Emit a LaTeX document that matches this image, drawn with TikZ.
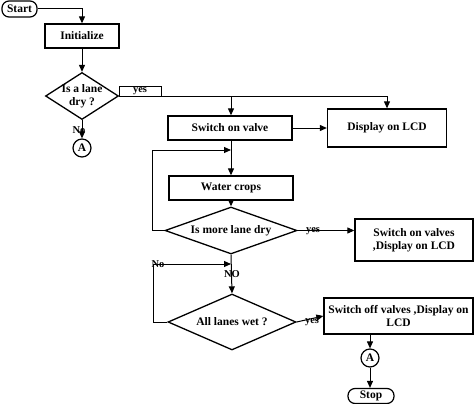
\documentclass[tikz,border=0pt]{standalone}
\usepackage{fontspec}
\setmainfont{Liberation Serif}
\usetikzlibrary{shapes.geometric,arrows.meta}
\begin{document}
\begin{tikzpicture}[x=1pt,y=-1pt,
  font=\bfseries\fontsize{11.5}{13}\selectfont,
  box/.style={draw,line width=1.3pt,rectangle,inner sep=1pt,align=center},
  term/.style={draw,line width=1.2pt,rounded corners=7pt,inner sep=1pt},
  dia/.style={draw,line width=1.3pt,diamond,inner sep=0pt},
  conn/.style={draw,line width=1.2pt,circle,inner sep=0pt,minimum size=18pt},
  lab/.style={inner sep=0.5pt,font=\bfseries\fontsize{10.5}{11}\selectfont},
  arr/.style={line width=1pt,-{Triangle[length=7pt,width=6pt]}},
  ln/.style={line width=1pt}]
\useasboundingbox (0,0) rectangle (474,404);
% nodes
\node[term,minimum width=35pt,minimum height=16pt] (start) at (19.5,9) {Start};
\node[box,minimum width=74pt,minimum height=24pt] (init) at (82,36) {Initialize};
\node[dia,minimum width=73pt,minimum height=47pt] (d1) at (82,96) {};
\node[align=center,inner sep=0pt] (d1t) at (82,96) {Is a lane\\dry ?};
\node[draw,line width=1pt,lab,minimum width=42pt,minimum height=9pt,inner sep=0pt] (yes1) at (140,91.5) {yes};
\node[conn] (A1) at (82,148) {A};
\node[box,minimum width=124pt,minimum height=24pt] (sov) at (230,128) {Switch on valve};
\node[box,minimum width=119pt,minimum height=38pt] (lcd) at (387,128) {Display on LCD};
\node[box,minimum width=124pt,minimum height=24pt] (water) at (231,188) {Water crops};
\node[dia,minimum width=132pt,minimum height=47pt] (d2) at (231,230.5) {};
\node[inner sep=0pt] (d2t) at (231,230.5) {Is more lane dry};
\node[box,minimum width=118pt,minimum height=42pt] (sovs) at (414,240) {Switch on valves\\,Display on LCD};
\node[dia,minimum width=128pt,minimum height=56pt] (d3) at (232,322) {};
\node[inner sep=0pt] (d3t) at (232,322) {All lanes wet ?};
\node[box,minimum width=149pt,minimum height=36pt] (soff) at (398.5,316) {Switch off valves ,Display on\\LCD};
\node[conn] (A2) at (370,358) {A};
\node[term,minimum width=46pt,minimum height=15pt] (stop) at (371,396) {Stop};
% coordinates
\coordinate (j1) at (231,96);
\coordinate (j2) at (387,96);
\coordinate (l1) at (152,230.5);
\coordinate (l2) at (152,150);
\coordinate (m1) at (231,150);
\coordinate (n1) at (153,322);
\coordinate (n2) at (153,264);
\coordinate (m2) at (231,264);
% connectors
\draw[arr] (start.east) -| (init.north);
\draw[arr] (init.south) -- (d1.north);
\draw[ln] (d1.east) -- (j2);
\draw[arr] (j1) -- (j1 |- sov.north);
\draw[arr] (j2) -- (lcd.north);
\draw[arr] (d1.south) -- (A1.north);
\node[lab] (no1) at (79,130) {No};
\draw[arr] (sov.east) -- (lcd.west);
\draw[arr] (sov.south -| m1) -- (water.north -| m1);
\draw[arr] (d2.west) -- (l1) -- (l2) -- (m1);
\draw[arr] (water.south -| d2.north) -- (d2.north);
\draw[arr] (d2.east) -- (sovs.west |- d2.east);
\node[lab] (yes2) at (313,231) {yes};
\draw[arr] (d2.south) -- (d3.north);
\node[lab] (no2) at (232,274) {NO};
\draw[arr] (d3.west) -- (n1) -- (n2) -- (m2);
\node[lab] (no3) at (158,264) {No};
\draw[arr] (d3.east) -- (soff.west);
\node[lab] (yes3) at (312,322) {yes};
\draw[arr] (soff.south -| A2) -- (A2.north);
\draw[arr] (A2.south) -- (stop.north -| A2);
\end{tikzpicture}
\end{document}
